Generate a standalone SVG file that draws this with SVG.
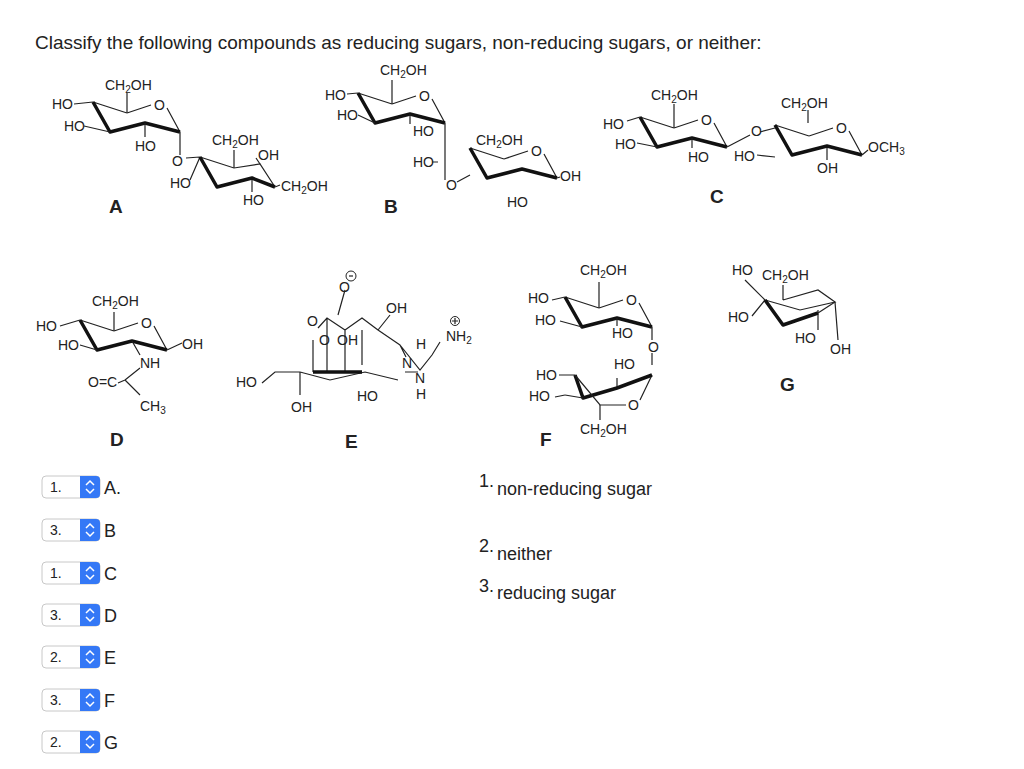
<svg xmlns="http://www.w3.org/2000/svg" width="1024" height="769" viewBox="0 0 1024 769">
<style>
text{font-family:"Liberation Sans",Arial,sans-serif;fill:#222}
.t{font-size:18px}
.c{font-size:14px}
.lab{font-size:19px;font-weight:bold}
.b{stroke:#222;stroke-width:1.2;fill:none}
.k{stroke:#111;stroke-width:3.5;fill:none;stroke-linejoin:round}
.box{fill:#fff;stroke:#c8c8c8}
.sp{fill:#3478f6}
.ar{stroke:#fff;stroke-width:1.5;fill:none}
</style>
<defs>
<g id="chair">
<path class="b" d="M0 0 L34 11 M34 11 L58 3 M74 6 L87 30"/>
<path class="k" d="M0 0 L17 30 L52 21 L87 30"/>
<text class="c" x="61" y="8">O</text>
</g>
<g id="chairC">
<path class="b" d="M0 0 L34 11 L60 7 L75 30"/>
<path class="k" d="M0 0 L17 30 L52 21 L75 30"/>
</g>
<g id="sel">
<rect class="box" x="0" y="0" width="58" height="22" rx="4"/>
<rect class="sp" x="38" y="0" width="20" height="22" rx="4"/>
<rect class="sp" x="38" y="0" width="8" height="22"/>
<path class="ar" d="M44 9 L48 5 L52 9 M44 13 L48 17 L52 13"/>
</g>
</defs>
<text x="35" y="49" style="font-size:19px">Classify the following compounds as reducing sugars, non-reducing sugars, or neither:</text>
<g id="A">
<use href="#chair" x="93" y="102"/>
<path class="b" d="M127 113 L127 93 M74 104 L93 102 M84 126 L110 132 M145 123 L145 137 M180 132 L180 155 M186 158 L200 157 M234 168 L234 150 M260 164 L256 158 M252 178 L252 192 M275 187 L280 185 M200 157 L190 180"/>
<text class="c" x="105" y="90">CH<tspan font-size="10" dy="3">2</tspan><tspan dy="-3">OH</tspan></text>
<text class="c" x="52" y="109">HO</text>
<text class="c" x="64" y="131">HO</text>
<text class="c" x="135" y="151">HO</text>
<text class="c" x="172" y="166">O</text>
<use href="#chairC" x="200" y="157"/>
<text class="c" x="212" y="145">CH<tspan font-size="10" dy="3">2</tspan><tspan dy="-3">OH</tspan></text>
<text class="c" x="258" y="160">OH</text>
<text class="c" x="170" y="188">HO</text>
<text class="c" x="243" y="205">HO</text>
<text class="c" x="281" y="191">CH<tspan font-size="10" dy="3">2</tspan><tspan dy="-3">OH</tspan></text>
<text class="lab" x="109" y="213">A</text>
</g>
<g id="B">
<use href="#chair" x="358" y="93"/>
<path class="b" d="M392 104 L392 80 M347 94 L358 93 M358 115 L375 123 M410 114 L410 124 M445 123 L445 180 M432 162 L438 162 M457 182 L470 175"/>
<text class="c" x="380" y="75">CH<tspan font-size="10" dy="3">2</tspan><tspan dy="-3">OH</tspan></text>
<text class="c" x="325" y="100">HO</text>
<text class="c" x="337" y="120">HO</text>
<text class="c" x="413" y="136">HO</text>
<use href="#chair" x="470" y="148"/>
<text class="c" x="476" y="145">CH<tspan font-size="10" dy="3">2</tspan><tspan dy="-3">OH</tspan></text>
<text class="c" x="413" y="167">HO</text>
<text class="c" x="446" y="190">O</text>
<text class="c" x="560" y="181">OH</text>
<path class="b" d="M557 178 L560 177"/>
<text class="c" x="507" y="207">HO</text>
<text class="lab" x="384" y="213">B</text>
</g>
<g id="C">
<use href="#chair" x="640" y="117"/>
<path class="b" d="M674 128 L674 104 M627 121 L640 117 M637 143 L657 147 M692 138 L692 148 M727 147 L750 135 M760 132 L775 128 M808 123 L808 110 M862 155 L868 150 M827 145 L827 160 M757 155 L775 157"/>
<text class="c" x="651" y="100">CH<tspan font-size="10" dy="3">2</tspan><tspan dy="-3">OH</tspan></text>
<text class="c" x="603" y="129">HO</text>
<text class="c" x="615" y="149">HO</text>
<text class="c" x="688" y="162">HO</text>
<text class="c" x="751" y="136">O</text>
<use href="#chair" x="775" y="125"/>
<text class="c" x="781" y="108">CH<tspan font-size="10" dy="3">2</tspan><tspan dy="-3">OH</tspan></text>
<text class="c" x="734" y="161">HO</text>
<text class="c" x="868" y="152">OCH<tspan font-size="10" dy="3">3</tspan></text>
<text class="c" x="817" y="173">OH</text>
<text class="lab" x="710" y="203">C</text>
</g>
<g id="D">
<use href="#chair" x="80" y="320"/>
<path class="b" d="M114 331 L114 312 M60 326 L80 320 M80 345 L97 350 M132 341 L140 355 M140 368 L125 380 M118 383 L125 380 M125 380 L140 395 M167 350 L182 343"/>
<text class="c" x="92" y="306">CH<tspan font-size="10" dy="3">2</tspan><tspan dy="-3">OH</tspan></text>
<text class="c" x="36" y="331">HO</text>
<text class="c" x="58" y="350">HO</text>
<text class="c" x="182" y="349">OH</text>
<text class="c" x="140" y="368">NH</text>
<text class="c" x="88" y="387">O=C</text>
<text class="c" x="140" y="411">CH<tspan font-size="10" dy="3">3</tspan></text>
<text class="lab" x="110" y="446">D</text>
</g>
<g id="E">
<path class="b" d="M345 290 L338 315 M318 328 L327 318 L345 330 L362 318 L378 330 M327 318 L327 372 M345 330 L345 372 M313 340 L313 372 M362 330 L362 365 M378 330 L390 315 M378 330 L400 345 M400 345 L406 357 M400 345 L420 370 L432 355 L440 342 M418 372 L405 372 M262 383 L275 372 L300 372 M300 372 L300 395 M300 372 L330 380 L365 372 L398 380"/>
<path class="k" d="M313 372 L362 372"/>
<circle cx="351" cy="276" r="5" fill="none" stroke="#222"/>
<path class="b" d="M349 276 L353 276"/>
<text class="c" x="339" y="292">O</text>
<text class="c" x="307" y="326">O</text>
<text class="c" x="319" y="345">O</text>
<text class="c" x="337" y="345">OH</text>
<text class="c" x="386" y="313">OH</text>
<text class="c" x="416" y="349">H</text>
<text class="c" x="402" y="368">N</text>
<text class="c" x="415" y="383">N</text>
<text class="c" x="416" y="399">H</text>
<circle cx="455" cy="321" r="4.5" fill="none" stroke="#222"/>
<path class="b" d="M452 321 L458 321 M455 318 L455 324"/>
<text class="c" x="446" y="341">NH<tspan font-size="10" dy="3">2</tspan></text>
<text class="c" x="236" y="387">HO</text>
<text class="c" x="291" y="412">OH</text>
<text class="c" x="357" y="401">HO</text>
<text class="lab" x="345" y="448">E</text>
</g>
<g id="F">
<use href="#chair" x="565" y="297"/>
<path class="b" d="M599 308 L599 282 M552 300 L565 297 M560 321 L582 327 M617 318 L617 326 M652 327 L652 340 M652 353 L652 365"/>
<text class="c" x="580" y="275">CH<tspan font-size="10" dy="3">2</tspan><tspan dy="-3">OH</tspan></text>
<text class="c" x="528" y="303">HO</text>
<text class="c" x="535" y="325">HO</text>
<text class="c" x="612" y="338">HO</text>
<text class="c" x="648" y="352">O</text>
<path class="b" d="M559 375 L575 375 M555 397 L565 395 M617 378 L617 388 M600 405 L600 420 M640 400 L652 375"/>
<path class="k" d="M575 375 L583 398 L617 388 L652 375"/>
<path class="b" d="M583 398 L565 395 M575 375 L600 405 L626 405"/>
<text class="c" x="628" y="410">O</text>
<text class="c" x="614" y="369">HO</text>
<text class="c" x="536" y="380">HO</text>
<text class="c" x="529" y="401">HO</text>
<text class="c" x="580" y="434">CH<tspan font-size="10" dy="3">2</tspan><tspan dy="-3">OH</tspan></text>
<text class="lab" x="540" y="446">F</text>
</g>
<g id="G">
<path class="b" d="M745 280 L765 300 M783 285 L783 300 M765 300 L800 310 L835 302 L818 290 L783 300 M752 316 L765 300 M818 330 L818 310 M835 302 L838 340"/>
<path class="k" d="M765 300 L783 325 L818 313"/>
<path class="b" d="M818 313 L835 302"/>
<text class="c" x="732" y="275">HO</text>
<text class="c" x="762" y="280">CH<tspan font-size="10" dy="3">2</tspan><tspan dy="-3">OH</tspan></text>
<text class="c" x="728" y="322">HO</text>
<text class="c" x="795" y="343">HO</text>
<text class="c" x="830" y="354">OH</text>
<text class="lab" x="780" y="391">G</text>
</g>
<g id="answers">
<use href="#sel" x="42" y="476"/><text class="c" x="50" y="492">1.</text><text class="t" x="104" y="494">A.</text>
<use href="#sel" x="42" y="519"/><text class="c" x="50" y="535">3.</text><text class="t" x="104" y="537">B</text>
<use href="#sel" x="42" y="562"/><text class="c" x="50" y="578">1.</text><text class="t" x="104" y="580">C</text>
<use href="#sel" x="42" y="604"/><text class="c" x="50" y="620">3.</text><text class="t" x="104" y="622">D</text>
<use href="#sel" x="42" y="646"/><text class="c" x="50" y="662">2.</text><text class="t" x="104" y="664">E</text>
<use href="#sel" x="42" y="689"/><text class="c" x="50" y="705">3.</text><text class="t" x="104" y="707">F</text>
<use href="#sel" x="42" y="731"/><text class="c" x="50" y="747">2.</text><text class="t" x="104" y="749">G</text>
</g>
<g id="legend">
<text class="t" x="479" y="487">1.</text><text class="t" x="497" y="495">non-reducing sugar</text>
<text class="t" x="479" y="552">2.</text><text class="t" x="497" y="560">neither</text>
<text class="t" x="479" y="592">3.</text><text class="t" x="497" y="599">reducing sugar</text>
</g>
</svg>
